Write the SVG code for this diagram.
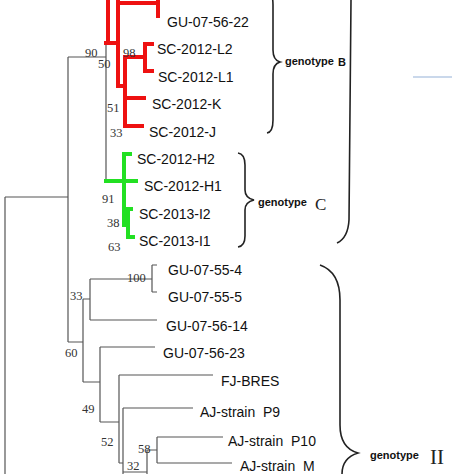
<svg xmlns="http://www.w3.org/2000/svg" width="474" height="474" viewBox="0 0 474 474">
<style>
.bk{stroke:#555;stroke-width:1.2;fill:none}
.rd{stroke:#ee1111;stroke-width:4;fill:none;stroke-linecap:square}
.gn{stroke:#22e022;stroke-width:4;fill:none;stroke-linecap:square}
.br{stroke:#222;stroke-width:1.6;fill:none}
.lb{font-family:"Liberation Sans",Arial,sans-serif;font-size:14px;fill:#111;white-space:pre}
.bs{font-family:"Liberation Serif","Times New Roman",serif;font-size:12.5px;fill:#333}
.gt{font-family:"Liberation Sans",Arial,sans-serif;font-size:11px;font-weight:bold;fill:#111}
.rm{font-family:"Liberation Serif","Times New Roman",serif;fill:#222}
</style>
<rect width="474" height="474" fill="#fff"/>
<g id="connectors">
<path class="bk" d="M5 197V474M5 197H68M68 57V342M68 57H106M106 45V181M68 342H83M83 299V382M83 299H90M90 279V320M90 279H152M152 265V292M152 265H157M152 292H157M90 320H157M83 382H100M100 347V422M100 347H155M100 422H119M119 375V463M119 375H213M119 463H123M123 408V474M123 408H193M123 472H147M147 450V474M147 450H157M157 437V463M157 437H223M157 463H232"/>
<path class="rd" d="M108 0V43M106 43H118M118 1V86M118 3H158M158 1V16M118 86H125M125 57V126M125 57H145M145 44V71M145 44H152M145 71H152M125 98H144M125 126H142"/>
<path class="gn" d="M124 154V225M124 154H130M106 181H136M128 209V237M128 209H131M128 237H133"/>
<path class="br" d="M267 -9Q273 -8 273 5V50Q273 60 280 62Q273 64 273 74V120Q273 132 267 133"/>
<path class="br" d="M238 153Q245 154 245 165V190Q245 198 254 200Q245 202 245 210V236Q245 246 238 247"/>
<path class="br" d="M351 0L349 220Q348 238 337 243"/>
<path class="br" d="M320 265Q340 272 340 300V425Q340 448 358 453Q342 458 342 474"/>
<line x1="413" y1="77" x2="452" y2="77" stroke="#b9cbe4" stroke-width="1.5"/>
</g>
<g id="n-gu075622"><text class="lb" x="167" y="27">GU-07-56-22</text></g>
<g id="n-sc2012l2"><text class="lb" x="157" y="54">SC-2012-L2</text></g>
<g id="n-sc2012l1"><text class="lb" x="158" y="82">SC-2012-L1</text></g>
<g id="n-sc2012k"><text class="lb" x="152" y="109">SC-2012-K</text></g>
<g id="n-sc2012j"><text class="lb" x="149" y="137">SC-2012-J</text></g>
<g id="n-sc2012h2"><text class="lb" x="137" y="164">SC-2012-H2</text></g>
<g id="n-sc2012h1"><text class="lb" x="144" y="191">SC-2012-H1</text></g>
<g id="n-sc2013i2"><text class="lb" x="139" y="219">SC-2013-I2</text></g>
<g id="n-sc2013i1"><text class="lb" x="139" y="246">SC-2013-I1</text></g>
<g id="n-gu07554"><text class="lb" x="168" y="275">GU-07-55-4</text></g>
<g id="n-gu07555"><text class="lb" x="168" y="302">GU-07-55-5</text></g>
<g id="n-gu075614"><text class="lb" x="166" y="331">GU-07-56-14</text></g>
<g id="n-gu075623"><text class="lb" x="163" y="358">GU-07-56-23</text></g>
<g id="n-fjbres"><text class="lb" x="221" y="386">FJ-BRES</text></g>
<g id="n-ajp9"><text class="lb" x="200" y="417">AJ-strain  P9</text></g>
<g id="n-ajp10"><text class="lb" x="228" y="446">AJ-strain  P10</text></g>
<g id="n-ajm"><text class="lb" x="240" y="471">AJ-strain  M</text></g>
<g id="bootstrap">
<text class="bs" x="85" y="57">90</text>
<text class="bs" x="98" y="68">50</text>
<text class="bs" x="123" y="57">98</text>
<text class="bs" x="107" y="112">51</text>
<text class="bs" x="110" y="137">33</text>
<text class="bs" x="102" y="203">91</text>
<text class="bs" x="107" y="227">38</text>
<text class="bs" x="108" y="251">63</text>
<text class="bs" x="127" y="282">100</text>
<text class="bs" x="70" y="300">33</text>
<text class="bs" x="65" y="357">60</text>
<text class="bs" x="82" y="413">49</text>
<text class="bs" x="101" y="446">52</text>
<text class="bs" x="138" y="453">58</text>
<text class="bs" x="127" y="470">32</text>
</g>
<g id="g-B"><text class="gt" x="285" y="65">genotype</text><text class="gt" x="338" y="66" font-size="10">B</text></g>
<g id="g-C"><text class="gt" x="258" y="206">genotype</text><text class="rm" x="315" y="210" font-size="17">C</text></g>
<g id="g-II"><text class="gt" x="370" y="459">genotype</text><text class="rm" x="430" y="464" font-size="21">II</text></g>
</svg>
